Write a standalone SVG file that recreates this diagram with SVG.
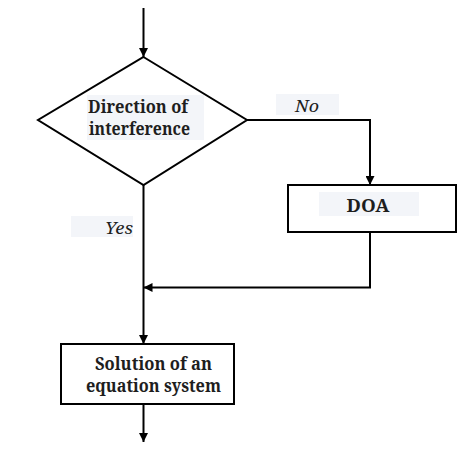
<svg xmlns="http://www.w3.org/2000/svg" width="474" height="452" viewBox="0 0 474 452">
<style>
.shape{fill:#fff;stroke:#000;stroke-width:2}
.bg{fill:#f3f5f9}
.t{font-family:'Noto Serif','DejaVu Serif',serif;font-weight:bold;font-size:17.5px;fill:#1e1e1e;text-anchor:middle}
.l{font-family:'Noto Serif','DejaVu Serif',serif;font-style:italic;font-size:16.5px;fill:#1e1e1e;text-anchor:middle}
.c{fill:none;stroke:#000;stroke-width:2}
</style>
<defs>
<marker id="ah" viewBox="0 0 10 10" refX="10" refY="5" markerWidth="4.5" markerHeight="4.5" orient="auto" markerUnits="strokeWidth">
<path d="M0,0 L10,5 L0,10 z" fill="#000"/>
</marker>
</defs>
<rect width="474" height="452" fill="#fff"/>
<g id="connectors">
<line class="c" x1="143.5" y1="8" x2="143.5" y2="57" marker-end="url(#ah)"/>
<polyline class="c" points="247,120 370,120 370,185" marker-end="url(#ah)"/>
<polyline class="c" points="370,232 370,287.5 143.5,287.5" marker-end="url(#ah)"/>
<line class="c" x1="143.5" y1="185" x2="143.5" y2="344" marker-end="url(#ah)"/>
<line class="c" x1="143.5" y1="404" x2="143.5" y2="442" marker-end="url(#ah)"/>
<rect class="bg" x="276" y="94" width="63" height="21"/>
<text class="l" x="307" y="112" textLength="24" lengthAdjust="spacingAndGlyphs">No</text>
<rect class="bg" x="71" y="216" width="62" height="21"/>
<text class="l" x="119" y="234" textLength="28" lengthAdjust="spacingAndGlyphs">Yes</text>
</g>
<g id="decision">
<polygon class="shape" points="143.5,57 247,120 143.5,185 38,120"/>
<rect class="bg" x="87" y="95" width="117" height="45"/>
<text class="t" x="138" y="112.7" textLength="100" lengthAdjust="spacingAndGlyphs">Direction of</text>
<text class="t" x="139.5" y="135" textLength="101" lengthAdjust="spacingAndGlyphs">interference</text>
</g>
<g id="doa">
<rect class="shape" x="288" y="185" width="168" height="47"/>
<rect class="bg" x="319" y="192" width="100" height="24"/>
<text class="t" x="368" y="211.7" textLength="43" lengthAdjust="spacingAndGlyphs">DOA</text>
</g>
<g id="solution">
<rect class="shape" x="61" y="344" width="173" height="60"/>
<text class="t" x="153.5" y="370" textLength="117" lengthAdjust="spacingAndGlyphs">Solution of an</text>
<text class="t" x="153.5" y="391.7" textLength="135" lengthAdjust="spacingAndGlyphs">equation system</text>
</g>
</svg>
